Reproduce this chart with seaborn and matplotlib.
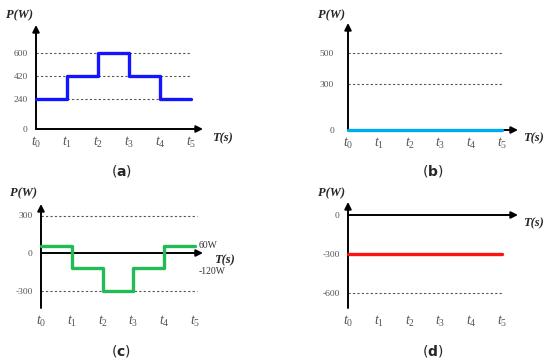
import numpy as np
import matplotlib
matplotlib.use("Agg")
import matplotlib.pyplot as plt
import seaborn as sns

# -----------------------------
# data
# -----------------------------
t_idx = [0, 1, 2, 3, 4, 5]
t_labels = [r"$t_{%d}$" % i for i in t_idx]

power_a = [240, 420, 600, 420, 240, 240]
power_b = [0, 0, 0, 0, 0, 0]
power_c = [60, -120, -300, -120, 60, 60]
power_d = [-300, -300, -300, -300, -300, -300]

yticks_a = [0, 240, 420, 600]
yticks_b = [0, 300, 500]
yticks_c = [-300, 0, 300]
yticks_d = [-600, -300, 0]

grid_a = [240, 420, 600]
grid_b = [300, 500]
grid_c = [-300, 300]
grid_d = [-600]

# -----------------------------
# style
# -----------------------------
sns.set_style("white")
plt.rcParams["font.family"] = ["Liberation Serif", "DejaVu Serif"]
plt.rcParams["mathtext.fontset"] = "custom"
plt.rcParams["mathtext.it"] = "Liberation Serif:italic"
plt.rcParams["mathtext.rm"] = "Liberation Serif"
plt.rcParams["mathtext.bf"] = "DejaVu Sans:bold"

W, H = 550, 359
fig = plt.figure(figsize=(W / 100, H / 100), dpi=100)


def px_axes(left, top, right, bottom):
    return fig.add_axes([left / W, 1 - bottom / H, (right - left) / W, (bottom - top) / H])


def fig_text(x, y, s, **kw):
    fig.text(x / W, 1 - y / H, s, **kw)


def panel(rect, xlim, ylim, power, color, yticks, grid, grid_end, ypad, xaxis_y=0):
    ax = px_axes(*rect)
    ax.set_xlim(*xlim)
    ax.set_ylim(*ylim)
    for s in ax.spines.values():
        s.set_visible(False)
    ax.set_facecolor("none")
    # dotted reference lines
    ax.hlines(grid, 0, grid_end, colors="#555555", linestyles=(0, (2, 2)), lw=0.8, zorder=1)
    # axes with arrows
    arr = dict(arrowstyle="-|>", color="black", lw=1.4, mutation_scale=10, shrinkA=0, shrinkB=0)
    ax.annotate("", xy=(xlim[1], xaxis_y), xytext=(0, xaxis_y), arrowprops=arr, zorder=2)
    ax.annotate("", xy=(0, ylim[1]), xytext=(0, ylim[0]), arrowprops=arr, zorder=2)
    # power profile
    sns.lineplot(x=t_idx, y=power, drawstyle="steps-post", color=color, lw=2.4, ax=ax,
                 zorder=3, clip_on=False)
    ax.set_xticks(t_idx)
    ax.set_xticklabels(t_labels, color="#555555", fontsize=10)
    ax.set_yticks(yticks)
    ax.set_yticklabels([str(v) for v in yticks], color="#555555", fontsize=6.8)
    ax.tick_params(axis="x", length=0, pad=4)
    ax.tick_params(axis="y", length=0, pad=ypad)
    ax.set_xlabel("")
    ax.set_ylabel("")
    return ax


# (a)
panel((36, 25, 203, 129), (0, 5.39), (0, 821), power_a, "#1414ff", yticks_a, grid_a, 5.0, 6)
# (b)
panel((348, 23, 518, 130), (0, 5.52), (0, 695), power_b, "#00aaee", yticks_b, grid_b, 5.0, 10)
# (c)
panel((41, 204, 203, 308), (0, 5.26), (-440, 392), power_c, "#22bb55", yticks_c, grid_c, 5.05, 6)
# (d)
panel((348, 202, 518, 308), (0, 5.52), (-715, 100), power_d, "#ff1111", yticks_d, grid_d, 5.0, 6)

# axis titles
lab = dict(fontsize=9, fontweight="bold", fontstyle="italic", ha="center", va="center")
for x, y in [(20, 15), (332, 15), (23, 193), (332, 193)]:
    fig_text(x, y, "P(W)", **lab)
for x, y in [(222, 138), (533, 138), (224, 260), (533, 223)]:
    fig_text(x, y, "T(s)", **lab)

# step annotations in (c)
fig_text(199, 246, "60W", fontsize=7, color="#333333", ha="left", va="center")
fig_text(199, 271, "-120W", fontsize=7, color="#333333", ha="left", va="center")

# panel letters
for x, y, s in [(121, 171, "a"), (433, 171, "b"), (121, 351, "c"), (433, 351, "d")]:
    fig_text(x, y, r"($\mathbf{%s}$)" % s, fontsize=10, family="DejaVu Sans", ha="center", va="center")

fig.savefig("out.png", dpi=100)
